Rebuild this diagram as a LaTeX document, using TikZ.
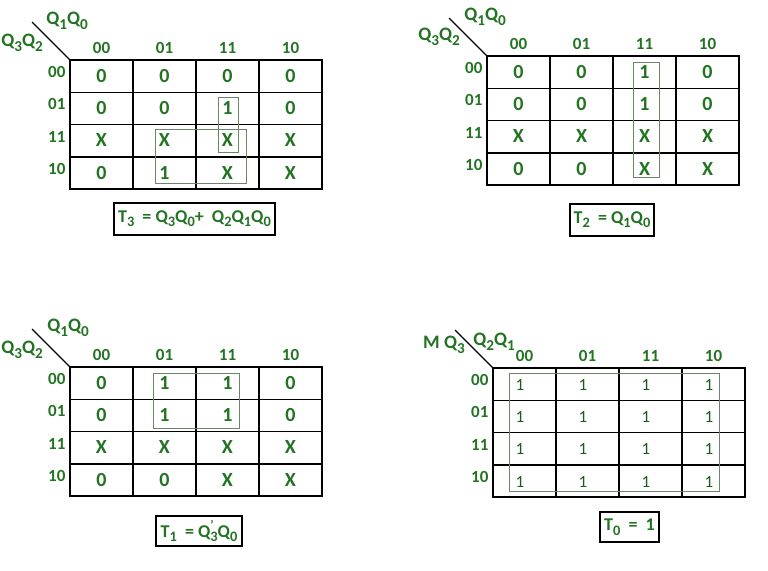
\documentclass[tikz,border=0pt]{standalone}
\usepackage{fontspec}
\setmainfont{Carlito}
\definecolor{kmgreen}{RGB}{34,115,34}
\definecolor{loopgray}{RGB}{105,135,105}
\newcommand{\lowdigit}[1]{\raisebox{-0.25em}{\scalebox{0.8}{#1}}}

\begin{document}
\begin{tikzpicture}[
    x=1pt, y=-1pt,
    cell/.style={font=\bfseries\fontsize{20}{20}\selectfont, text=kmgreen},
    thin cell/.style={font=\fontsize{17}{17}\selectfont, text=kmgreen!80!black},
    head/.style={font=\bfseries\fontsize{17}{17}\selectfont, text=kmgreen},
    var/.style={font=\bfseries\fontsize{19}{19}\selectfont, text=kmgreen},
    grid line/.style={line width=1.5pt, line cap=rect},
    diag/.style={line width=1.3pt},
    group/.style={draw=loopgray, line width=0.8pt},
    result/.style={draw, line width=2pt, font=\bfseries\fontsize{18}{18}\selectfont, text=kmgreen, minimum height=32pt, inner sep=2pt}
]

\useasboundingbox (0,0) rectangle (768,570);

% Grids, diagonals and column/row headers of the four maps
\foreach \m/\sx/\sy in {1/70/60, 2/487/56, 3/70/367, 4/493/368} {
  \begin{scope}[shift={(\sx,\sy)}]
    \foreach \k in {0,...,4} {
      \draw[grid line] ({\k*63},0) -- ({\k*63},129);
      \draw[grid line] (0,{\k*32.25}) -- (252,{\k*32.25});
    }
    \draw[diag] (-38,-38) -- (0,0);
    \foreach \h [count=\i from 0] in {00,01,11,10} {
      \node[head] (m\m col\i) at ({\i*63+31.5},-12) {\h};
      \node[head, anchor=east] (m\m row\i) at (-1,{\i*32.25+12}) {\h};
    }
  \end{scope}
}

% Variable names
\node[var] (m1top) at (67,21) {Q\lowdigit{1}Q\lowdigit{0}};
\node[var] (m1left) at (22,43) {Q\lowdigit{3}Q\lowdigit{2}};
\node[var] (m2top) at (485,17) {Q\lowdigit{1}Q\lowdigit{0}};
\node[var] (m2left) at (439,37) {Q\lowdigit{3}Q\lowdigit{2}};
\node[var] (m3top) at (68,328) {Q\lowdigit{1}Q\lowdigit{0}};
\node[var] (m3left) at (22,350) {Q\lowdigit{3}Q\lowdigit{2}};
\node[var] (m4top) at (494,342) {Q\lowdigit{2}Q\lowdigit{1}};
\node[var] (m4left) at (444,345) {M Q\lowdigit{3}};

% Map 1: T3
\foreach \v [count=\i from 0] in {0,0,0,0, 0,0,1,0, X,X,X,X, 0,1,X,X}
  \node[cell] (a\i) at ({70+mod(\i,4)*63+31.5},{60+floor(\i/4)*32.25+16}) {\v};
\draw[group] (218,97) rectangle (238,152);
\draw[group] (155,129) rectangle (246,183);

% Map 2: T2
\foreach \v [count=\i from 0] in {0,0,1,0, 0,0,1,0, X,X,X,X, 0,0,X,X}
  \node[cell] (b\i) at ({487+mod(\i,4)*63+31.5},{56+floor(\i/4)*32.25+16}) {\v};
\draw[group] (633,62) rectangle (659,177);

% Map 3: T1
\foreach \v [count=\i from 0] in {0,1,1,0, 0,1,1,0, X,X,X,X, 0,0,X,X}
  \node[cell] (c\i) at ({70+mod(\i,4)*63+31.5},{367+floor(\i/4)*32.25+16}) {\v};
\draw[group] (153,373) rectangle (239,428);

% Map 4: T0
\foreach \i in {0,...,15}
  \node[thin cell] (d\i) at ({493+mod(\i,4)*63+27},{368+floor(\i/4)*32.25+17}) {1};
\draw[group] (509,373) rectangle (719,491);

% Results
\node[result, minimum width=161pt] (t3) at (194.5,218.5) {T\lowdigit{3}\ \ = Q\lowdigit{3}Q\lowdigit{0}+\ \ Q\lowdigit{2}Q\lowdigit{1}Q\lowdigit{0}};
\node[result, minimum width=84pt] (t2) at (612,219.5) {T\lowdigit{2}\ \ = Q\lowdigit{1}Q\lowdigit{0}};
\node[result, minimum width=86pt, minimum height=30pt] (t1) at (199,531) {T\lowdigit{1}\ \ = Q\rlap{\raisebox{0.45em}{\scalebox{0.7}{'}}}\lowdigit{3}Q\lowdigit{0}};
\node[result, minimum width=59pt, minimum height=30pt] (t0) at (629.5,527) {T\lowdigit{0}\ \ = \ 1};
\end{tikzpicture}
\end{document}
